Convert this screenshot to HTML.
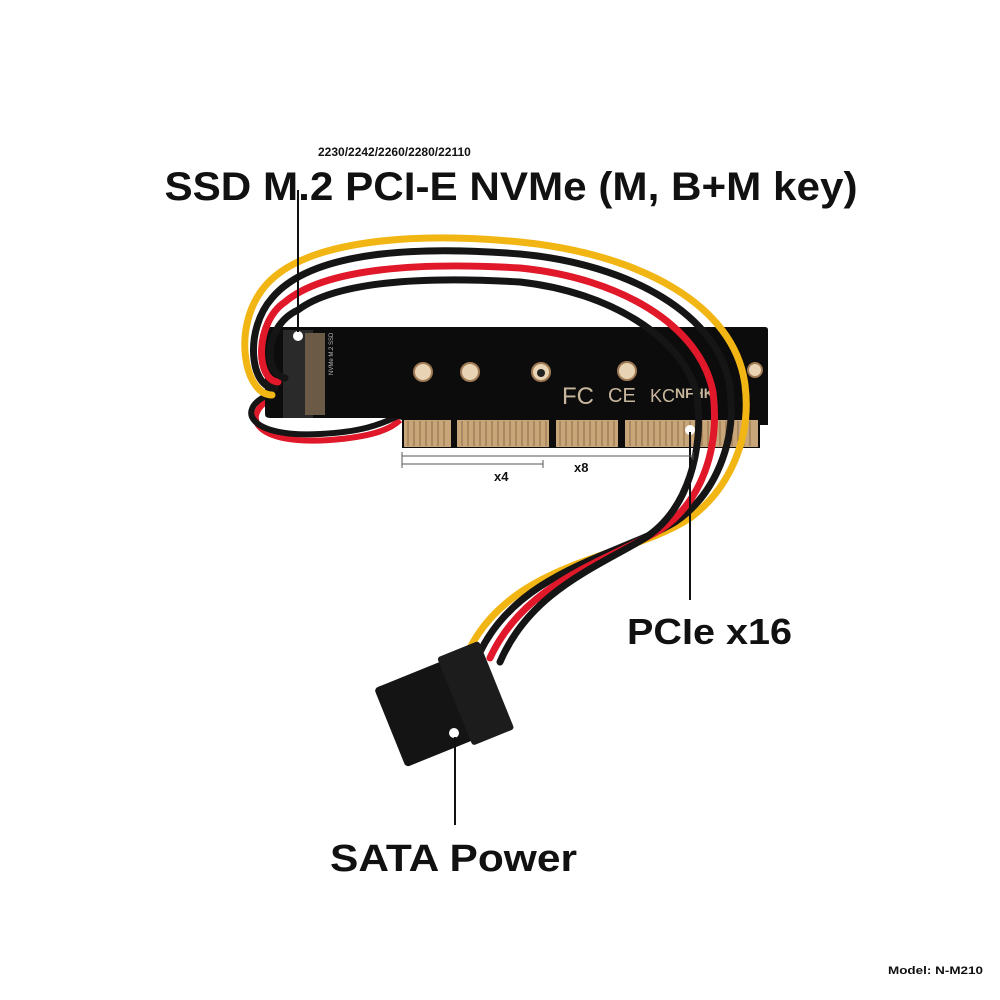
<!DOCTYPE html>
<html><head><meta charset="utf-8"><style>
html,body{margin:0;padding:0;background:#fff;width:1000px;height:1000px;overflow:hidden}
svg{display:block}
text{font-family:"Liberation Sans",sans-serif;font-weight:bold;fill:#111}
</style></head><body>
<svg width="1000" height="1000" viewBox="0 0 1000 1000" xmlns="http://www.w3.org/2000/svg">
<rect width="1000" height="1000" fill="#fff"/>
<!-- lower loop wires under board -->
<path d="M268 400 C240 420 260 445 330 440 C370 437 390 430 400 420" fill="none" stroke="#e0182a" stroke-width="6"/>
<path d="M268 395 C235 410 250 438 320 434 C360 432 380 425 398 416" fill="none" stroke="#151515" stroke-width="6"/>
<!-- board -->
<path d="M265 330 Q265 327 268 327 L765 327 Q768 327 768 330 L768 425 L760 425 L760 448 L402 448 L402 420 L395 418 L270 418 Q265 418 265 414 Z" fill="#0c0c0c"/>
<!-- gold fingers -->
<g fill="#c9a57a">
<rect x="404" y="420" width="47" height="27"/>
<rect x="457" y="420" width="92" height="27"/>
<rect x="556" y="420" width="62" height="27"/>
<rect x="625" y="420" width="133" height="27"/>
</g>
<g stroke="#8a6a45" stroke-width="1">
<path d="M408 421V446M414 421V446M420 421V446M426 421V446M432 421V446M438 421V446M444 421V446M462 421V446M468 421V446M474 421V446M480 421V446M486 421V446M492 421V446M498 421V446M504 421V446M510 421V446M516 421V446M522 421V446M528 421V446M534 421V446M540 421V446M546 421V446M560 421V446M566 421V446M572 421V446M578 421V446M584 421V446M590 421V446M596 421V446M602 421V446M608 421V446M614 421V446M630 421V446M636 421V446M642 421V446M648 421V446M654 421V446M660 421V446M666 421V446M672 421V446M678 421V446M684 421V446M690 421V446M696 421V446M702 421V446M708 421V446M714 421V446M720 421V446M726 421V446M732 421V446M738 421V446M744 421V446M750 421V446"/>
</g>
<!-- M.2 slot -->
<rect x="283" y="330" width="30" height="88" fill="#2a2a2a"/>
<rect x="305" y="333" width="20" height="82" fill="#6b5a45"/>
<text x="330" y="372" font-size="6" fill="#bbb" transform="rotate(-90 333 372)" style="fill:#bbb;font-weight:normal">NVMe M.2 SSD</text>
<!-- holes -->
<g fill="#e8d4b4" stroke="#a07a55" stroke-width="2">
<circle cx="423" cy="372" r="9"/><circle cx="470" cy="372" r="9"/><circle cx="541" cy="372" r="9"/><circle cx="627" cy="371" r="9"/><circle cx="755" cy="370" r="7"/>
</g>
<circle cx="541" cy="373" r="4" fill="#222"/>
<text x="562" y="404" font-size="24" style="fill:#c8b79c;font-weight:normal">FC</text>
<text x="608" y="402" font-size="20" style="fill:#c8b79c;font-weight:normal">CE</text>
<text x="650" y="402" font-size="18" style="fill:#c8b79c;font-weight:normal">KC</text>
<text x="675" y="398" font-size="14" style="fill:#c8b79c">NFHK</text>
<!-- wires -->
<g fill="none" stroke-width="7" stroke-linecap="round">
<path d="M272 395 C245 395 232 330 262 290 C300 238 420 232 520 242 C640 254 735 305 745 385 C752 440 728 490 690 518 C630 558 515 560 470 648" stroke="#f2b614"/>
<path d="M275 388 C250 388 244 330 272 298 C312 250 420 246 520 254 C630 264 720 315 730 388 C737 442 715 495 675 522 C618 556 520 570 480 652" stroke="#151515"/>
<path d="M278 382 C255 380 255 322 285 302 C325 268 420 262 520 268 C620 278 700 325 713 392 C720 448 702 502 660 530 C605 562 525 582 490 658" stroke="#e0182a"/>
<path d="M285 378 C262 372 265 325 298 310 C335 282 420 276 520 282 C610 292 684 338 697 395 C704 450 688 510 645 538 C595 568 530 592 500 662" stroke="#151515"/>
</g>
<!-- SATA connector -->
<g transform="rotate(-22 440 705)">
<rect x="385" y="665" width="110" height="85" rx="4" fill="#141414"/>
<rect x="455" y="660" width="45" height="95" rx="3" fill="#1c1c1c"/>
</g>
<circle cx="454" cy="733" r="5" fill="#fff"/>
<circle cx="298" cy="336" r="5" fill="#fff"/>
<circle cx="690" cy="430" r="5" fill="#fff"/>
<!-- leader lines -->
<g stroke="#111" stroke-width="2">
<line x1="298" y1="190" x2="298" y2="332"/>
<line x1="690" y1="432" x2="690" y2="600"/>
<line x1="455" y1="737" x2="455" y2="825"/>
</g>
<g stroke="#555" stroke-width="1">
<line x1="402" y1="456" x2="693" y2="456"/><line x1="402" y1="452" x2="402" y2="460"/><line x1="693" y1="452" x2="693" y2="460"/>
<line x1="402" y1="464" x2="543" y2="464"/><line x1="402" y1="460" x2="402" y2="468"/><line x1="543" y1="460" x2="543" y2="468"/>
</g>
<!-- labels -->
<text x="318" y="156" font-size="12">2230/2242/2260/2280/22110</text>
<text x="511" y="200" font-size="40" text-anchor="middle" textLength="693" lengthAdjust="spacingAndGlyphs">SSD M.2 PCI-E NVMe (M, B+M key)</text>
<text x="494" y="481" font-size="13">x4</text>
<text x="574" y="472" font-size="13">x8</text>
<text x="627" y="644" font-size="36" textLength="165" lengthAdjust="spacingAndGlyphs">PCIe x16</text>
<text x="330" y="871" font-size="38" textLength="247" lengthAdjust="spacingAndGlyphs">SATA Power</text>
<text x="888" y="974" font-size="11" textLength="95" lengthAdjust="spacingAndGlyphs">Model: N-M210</text>
</svg>
</body></html>
